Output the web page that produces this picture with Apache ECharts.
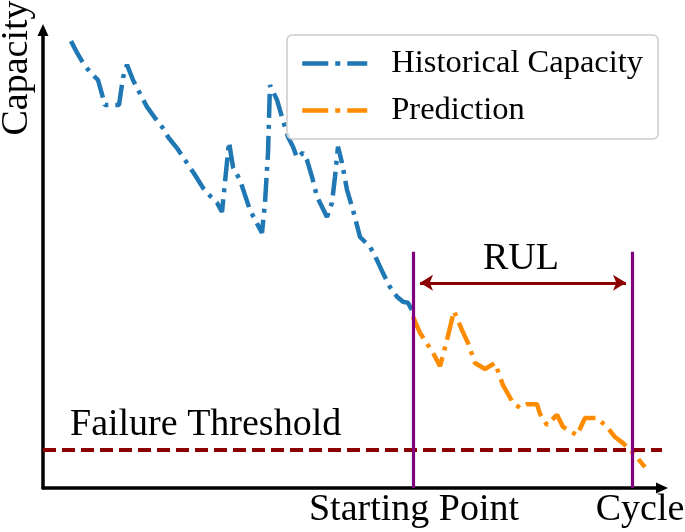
<!DOCTYPE html>
<html><head><meta charset="utf-8">
<script src="https://cdn.jsdelivr.net/npm/echarts@6/dist/echarts.min.js"></script>
<style>html,body{margin:0;padding:0;background:#fff}#c{width:685px;height:532px}</style>
</head><body><div id="c"></div>
<script>
const histCycles = [28,34,40,47,55,62,70,76,80,84,90,95,104,112,119,125,134,144,152,160,167,174,179,186,190,197,207,213,219,222,225,227,234,239,245,250,254,260,264,269,274,284,289,292,295,299,304,310,317,327,334,340,347,354,360,365,369];
const histCapacity = [96.5,94.0,91.8,89.8,88.1,82.7,82.7,82.7,88.6,91.4,88.1,86.0,82.3,79.9,78.0,75.8,73.4,70.2,67.6,64.8,63.1,61.6,59.6,74.7,69.3,66.5,60.0,57.5,55.1,61.6,72.4,87.0,83.8,80.1,75.8,73.7,71.3,72.4,70.8,67.2,62.9,58.5,61.6,67.2,73.7,70.2,64.4,60.0,54.2,52.1,49.2,46.4,43.4,41.3,40.2,40.0,38.4];
const predCycles = [370,377,390,397,404,411,419,425,432,442,452,460,470,477,484,494,497,504,514,520,534,542,554,564,572,580,590,602];
const predCapacity = [37.0,33.5,29.2,26.3,32.0,38.2,34.1,31.3,27.0,25.7,27.0,22.2,18.4,17.3,18.1,18.1,16.0,13.6,15.8,13.2,11.4,15.1,15.1,13.2,11.0,9.7,7.6,4.5];
const failureThreshold = 8.3;
const startCycle = 370;
const endCycle = 589;
const markerTop = 51.0;
const rulLevel = 44.3;
const xMax = 619;
const yMax = 98.9;

const FONT = '"Liberation Serif", "Times New Roman", serif';
const chart = echarts.init(document.getElementById('c'), null, {renderer: 'canvas'});
const zip = (a, b) => a.map((v, i) => [v, b[i]]);
const dashDot = [24, 7, 4, 7];
const axisBase = {
  type: 'value', min: 0,
  axisLine: {show: true, onZero: false, lineStyle: {color: '#000', width: 3.5}, symbol: ['none', 'triangle'], symbolSize: [11, 12]},
  axisTick: {show: false}, axisLabel: {show: false}, splitLine: {show: false}
};
chart.setOption({
  animation: false,
  grid: {left: 43, right: 23, top: 30, bottom: 44},
  xAxis: Object.assign({}, axisBase, {max: xMax}),
  yAxis: Object.assign({}, axisBase, {max: yMax}),
  legend: {
    orient: 'vertical', left: 287, top: 35,
    itemWidth: 65, itemHeight: 14, itemGap: 14,
    padding: [12, 15, 12, 13],
    borderColor: '#cccccc', borderWidth: 1.5, borderRadius: 5,
    backgroundColor: 'rgba(255,255,255,0.8)',
    itemStyle: {opacity: 0},
    lineStyle: {width: 4.5, type: [26, 7, 5, 7], cap: 'butt'},
    textStyle: {fontFamily: FONT, fontSize: 32.5, color: '#000', padding: [0, 0, 0, 19]},
    data: ['Historical Capacity', 'Prediction']
  },
  series: [
    {name: 'Historical Capacity', type: 'line', data: zip(histCycles, histCapacity), symbol: 'none', showSymbol: false,
     lineStyle: {color: '#1f77b4', width: 4.5, type: dashDot, cap: 'butt'}, itemStyle: {color: '#1f77b4'}, z: 3},
    {name: 'Prediction', type: 'line', data: zip(predCycles, predCapacity), symbol: 'none', showSymbol: false,
     lineStyle: {color: '#ff8c00', width: 4.5, type: dashDot, cap: 'butt'}, itemStyle: {color: '#ff8c00'}, z: 3},
    {name: 'markers', type: 'line', data: [], clip: false, z: 4,
     markLine: {
       silent: true, animation: false, label: {show: false}, symbol: 'none',
       data: [
         [{coord: [0, failureThreshold], lineStyle: {color: '#8b0000', width: 4, type: [13, 6]}}, {coord: [xMax, failureThreshold]}],
         [{coord: [startCycle, 0], lineStyle: {color: '#800080', width: 3.2, type: 'solid'}}, {coord: [startCycle, markerTop]}],
         [{coord: [endCycle, 0], lineStyle: {color: '#800080', width: 3.2, type: 'solid'}}, {coord: [endCycle, markerTop]}]
       ]
     }},
    {name: 'rul', type: 'line', data: [], clip: false, z: 5,
     markLine: {
       silent: true, animation: false, label: {show: false},
       symbol: ['arrow', 'arrow'], symbolSize: [12, 13],
       lineStyle: {color: '#8b0000', width: 3, type: 'solid'},
       data: [[{coord: [startCycle + 7, rulLevel]}, {coord: [endCycle - 6, rulLevel]}]]
     }}
  ],
  graphic: [
    {type: 'text', x: 17, y: 68, rotation: Math.PI / 2, style: {text: 'Capacity', fill: '#000', font: '38px ' + FONT, align: 'center', verticalAlign: 'middle'}},
    {type: 'text', x: 70, y: 425, style: {text: 'Failure Threshold', fill: '#000', font: '38px ' + FONT, align: 'left', verticalAlign: 'middle'}},
    {type: 'text', x: 521, y: 259, style: {text: 'RUL', fill: '#000', font: '38px ' + FONT, align: 'center', verticalAlign: 'middle'}},
    {type: 'text', x: 414, y: 510, style: {text: 'Starting Point', fill: '#000', font: '38px ' + FONT, align: 'center', verticalAlign: 'middle'}},
    {type: 'text', x: 640, y: 510, style: {text: 'Cycle', fill: '#000', font: '38px ' + FONT, align: 'center', verticalAlign: 'middle'}}
  ]
});
</script></body></html>
